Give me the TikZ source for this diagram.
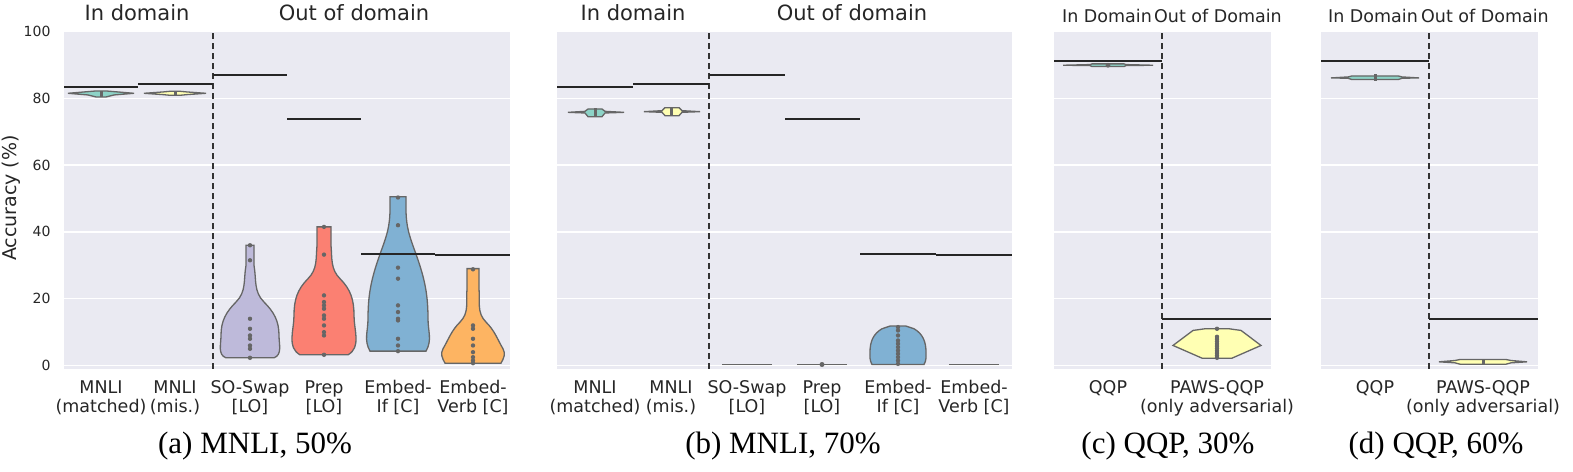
\documentclass[tikz,border=0pt]{standalone}
\usepackage{fontspec}
\setmainfont{DejaVu Sans}
\newfontfamily\capfont{Liberation Serif}
\begin{document}
\begin{tikzpicture}[x=1pt,y=-1pt,
  grid/.style={draw=white,line width=1.4pt},
  ref/.style={draw=black!85,line width=2pt},
  sep/.style={draw=black!80,dash pattern=on 6pt off 4pt,line width=1.6pt},
  vio/.style={draw=black!60,line width=1.3pt},
  dot/.style={fill=black!60,draw=none},
  tick/.style={font=\fontsize{14}{14}\selectfont,text=black!85,anchor=east},
  cat/.style={font=\fontsize{17.5}{19}\selectfont,text=black!85,align=center,anchor=north},
  ttl/.style={font=\fontsize{21}{21}\selectfont,text=black!85},
  ttls/.style={font=\fontsize{17.5}{17}\selectfont,text=black!85},
  captxt/.style={font=\capfont\fontsize{31}{31}\selectfont}]
\definecolor{bgc}{HTML}{EAEAF2}
\definecolor{cA}{HTML}{8DD3C7}\definecolor{cB}{HTML}{FFFFB3}
\definecolor{cC}{HTML}{BEBADA}\definecolor{cD}{HTML}{FB8072}
\definecolor{cE}{HTML}{80B1D3}\definecolor{cF}{HTML}{FDB462}
\useasboundingbox (0,0) rectangle (1573,471);
% ---------- data scope: x in px, y in accuracy ----------
\begin{scope}[yshift=-365.5pt,y=3.34pt]
\foreach \a/\b in {64/510,557/1012,1054/1271,1321/1538}{
  \fill[bgc] (\a,-1) rectangle (\b,100);
  \foreach \v in {0,20,40,60,80}{\draw[grid] (\a,\v) -- (\b,\v);}
}
\foreach \s in {213,709,1162,1429}{\draw[sep] (\s,-1) -- (\s,100);}
% ===== panel a =====
\draw[vio,fill=cA] (68,81.5) -- (88,81) -- (96,80.4) -- (106,80.4) -- (114,81) -- (134,81.5) -- (114,82) -- (106,82.2) -- (96,82.2) -- (88,82) -- cycle;
\fill[dot] (99.5,80.3) rectangle (102.5,82.3);
\draw[vio,fill=cB] (144,81.5) -- (163,81.1) -- (170,80.9) -- (180,80.9) -- (187,81.1) -- (206,81.5) -- (187,81.9) -- (180,82.1) -- (170,82.1) -- (163,81.9) -- cycle;
\fill[dot] (173.5,80.9) rectangle (176.5,82.1);
\draw[vio,fill=cC] (226,2.3) -- (274,2.3) to[out=20,in=-90] (279,9) to[out=90,in=-45] (264,19) to[out=135,in=-80] (254,30) -- (254,36) -- (246,36) -- (246,30) to[out=-100,in=45] (236,19) to[out=-135,in=90] (221,9) to[out=-90,in=160] cycle;
\draw[vio,fill=cD] (300,3.2) -- (348,3.2) to[out=30,in=-90] (354,15) to[out=90,in=-45] (340,26) to[out=135,in=-85] (331,36) -- (331,41.5) -- (317,41.5) -- (317,36) to[out=-95,in=45] (308,26) to[out=-135,in=90] (294,15) to[out=-90,in=150] cycle;
\draw[vio,fill=cE] (370,4.3) -- (426,4.3) to[out=60,in=-90] (428,14) to[out=90,in=-70] (414,35) to[out=110,in=-88] (406,46) -- (406,50.5) -- (390,50.5) -- (390,46) to[out=-92,in=70] (382,35) to[out=-110,in=90] (368,14) to[out=-90,in=120] cycle;
\draw[vio,fill=cF] (445,0.7) -- (501,0.7) to[out=60,in=-60] (503,5) to[out=120,in=-45] (486,13) to[out=135,in=-85] (479,23) -- (479,29) -- (467,29) -- (467,23) to[out=-95,in=45] (460,13) to[out=-135,in=60] (443,5) to[out=-120,in=120] cycle;
\foreach \x/\vs in {250/{2.3,5,6,8,9,11,14,31.5,36},324/{3.2,9,10,12,14,15,17,18,19,21,33.2,41.5},398/{4.3,6,8,13.5,14,16,18,26,29.3,42,50.3},473/{0.7,1.5,2.5,4,6,8,11,12,28.8}}
  \foreach \v in \vs {\fill[dot] (\x,\v) circle (2.2pt);}
\draw[ref] (64,83.3) -- (138,83.3);
\draw[ref] (138,84.3) -- (213,84.3);
\draw[ref] (213,87) -- (287,87);
\draw[ref] (287,73.7) -- (361,73.7);
\draw[ref] (361,33.5) -- (435,33.5);
\draw[ref] (435,33.2) -- (510,33.2);
% ===== panel b =====
\draw[vio,fill=cA] (568,75.8) -- (585,75.6) -- (588,74.5) -- (602,74.5) -- (605,75.6) -- (624,75.8) -- (605,76.1) -- (602,76.8) -- (588,76.8) -- (585,76.1) -- cycle;
\fill[dot] (593.5,74.4) rectangle (596.5,77);
\draw[vio,fill=cB] (644,76) -- (662,75.8) -- (665,74.8) -- (679,74.8) -- (682,75.8) -- (700,76) -- (682,76.3) -- (679,77.2) -- (665,77.2) -- (662,76.3) -- cycle;
\fill[dot] (669.5,74.8) rectangle (672.5,77.4);
\draw[vio] (722,0.3) -- (772,0.3);
\draw[vio] (797,0.3) -- (847,0.3);
\fill[dot] (822,0.3) circle (2.5pt);
\draw[vio] (949,0.3) -- (999,0.3);
\draw[vio,fill=cE] (872,0.3) -- (924,0.3) to[out=60,in=-90] (926,4) to[out=90,in=-30] (914,11) -- (906,11.8) -- (890,11.8) -- (882,11) to[out=-150,in=90] (870,4) to[out=-90,in=120] cycle;
\foreach \v in {0.5,1.5,2.5,3.5,4.5,5.5,6.5,7.5,9,10.5,11.5}{\fill[dot] (898,\v) circle (2.2pt);}
\draw[ref] (557,83.3) -- (633,83.3);
\draw[ref] (633,84.3) -- (709,84.3);
\draw[ref] (709,87) -- (785,87);
\draw[ref] (785,73.7) -- (860,73.7);
\draw[ref] (860,33.5) -- (936,33.5);
\draw[ref] (936,33.2) -- (1012,33.2);
% ===== panel c =====
\draw[vio,fill=cA] (1063,89.9) -- (1090,89.8) -- (1092,89.5) -- (1124,89.5) -- (1126,89.8) -- (1153,89.9) -- (1126,90.1) -- (1124,90.3) -- (1092,90.3) -- (1090,90.1) -- cycle;
\fill[dot] (1108,89.9) circle (2.4pt);
\draw[vio,fill=cB] (1202,2.2) -- (1232,2.2) -- (1261,6) -- (1241,10.5) -- (1229,11) -- (1205,11) -- (1193,10.5) -- (1173,6) -- cycle;
\foreach \v in {2.3,3,3.7,4.4,5.1,5.8,6.5,7.2,7.9,8.6,11}{\fill[dot] (1217,\v) circle (2.2pt);}
\draw[ref] (1054,91.3) -- (1162,91.3);
\draw[ref] (1162,13.8) -- (1271,13.8);
% ===== panel d =====
\draw[vio,fill=cA] (1331,86.1) -- (1348,86.0) -- (1352,85.6) -- (1398,85.6) -- (1402,86.0) -- (1419,86.1) -- (1402,86.4) -- (1398,86.7) -- (1352,86.7) -- (1348,86.4) -- cycle;
\fill[dot] (1373.5,85.1) rectangle (1376.5,87.2);
\draw[vio,fill=cB] (1439,1.1) -- (1455,0.8) -- (1460,0.4) -- (1506,0.4) -- (1511,0.8) -- (1527,1.1) -- (1511,1.5) -- (1506,1.8) -- (1460,1.8) -- (1455,1.5) -- cycle;
\fill[dot] (1481.5,0.1) rectangle (1484.5,2);
\draw[ref] (1321,91.3) -- (1429,91.3);
\draw[ref] (1429,13.8) -- (1538,13.8);
\end{scope}
% ---------- texts ----------
\foreach \v in {0,20,40,60,80,100}{\node[tick] (t\v) at (54,{365.5-3.34*\v}) {\v};}
\node[rotate=90,font=\fontsize{19}{19}\selectfont,text=black!85] (ylab) at (11,198) {Accuracy (\%)};
\node[ttl] (ia) at (137,13) {In domain};
\node[ttl] (oa) at (354,13) {Out of domain};
\node[ttl] (ib) at (633,13) {In domain};
\node[ttl] (ob) at (852,13) {Out of domain};
\node[ttls] (ic) at (1107,16) {In Domain};
\node[ttls] (oc) at (1218,16) {Out of Domain};
\node[ttls] (id) at (1373,16) {In Domain};
\node[ttls] (od) at (1485,16) {Out of Domain};
\foreach \n/\x/\t in {a1/101/{MNLI\\(matched)},a2/175/{MNLI\\(mis.)},a3/250/{SO-Swap\\{[LO]}},a4/324/{Prep\\{[LO]}},a5/398/{Embed-\\If [C]},a6/473/{Embed-\\Verb [C]},
  b1/595/{MNLI\\(matched)},b2/671/{MNLI\\(mis.)},b3/747/{SO-Swap\\{[LO]}},b4/822/{Prep\\{[LO]}},b5/898/{Embed-\\If [C]},b6/974/{Embed-\\Verb [C]},
  c1/1108/{QQP},c2/1217/{PAWS-QQP\\(only adversarial)},d1/1375/{QQP},d2/1483/{PAWS-QQP\\(only adversarial)}}
  {\node[cat] (l\n) at (\x,377) {\t};}
\node[captxt] (ca) at (255,446) {(a) MNLI, 50\%};
\node[captxt] (cb) at (783,446) {(b) MNLI, 70\%};
\node[captxt] (cc) at (1168,446) {(c) QQP, 30\%};
\node[captxt] (cd) at (1436,446) {(d) QQP, 60\%};
\end{tikzpicture}
\end{document}
